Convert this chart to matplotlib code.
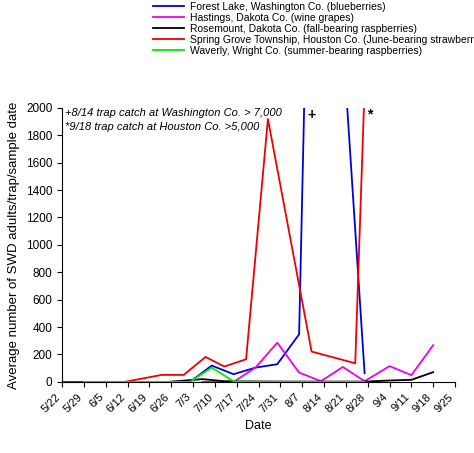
import matplotlib.pyplot as plt
import numpy as np
import datetime as dt

plt.rcParams['font.family'] = ['Liberation Sans', 'DejaVu Sans']

tick_labels = ['5/22', '5/29', '6/5', '6/12', '6/19', '6/26', '7/3', '7/10', '7/17', '7/24',
               '7/31', '8/7', '8/14', '8/21', '8/28', '9/4', '9/11', '9/18', '9/25']

# days after 5/22, values (off-scale peaks kept just above the 2000 limit)
red_d = [0, 7, 20, 32, 39, 46, 52, 59, 66, 80, 94, 97]
red_v = [0, 0, 0, 51, 51, 182, 112, 165, 1918, 221, 136, 2150]
blue_d = [41, 48, 55, 62, 69, 76, 78, 91, 97]
blue_v = [0, 119, 56, 104, 129, 347, 2400, 2150, 63]
mag_d = [45, 55, 62, 69, 76, 83, 90, 97, 105, 112, 119]
mag_v = [0, 0, 104, 286, 68, 5, 109, 5, 115, 49, 268]
blk_d = [34, 45, 52, 62, 76, 90, 97, 105, 112, 119]
blk_v = [0, 20, 5, 3, 2, 2, 2, 10, 15, 71]
grn_d = [7, 41, 48, 55, 62, 76, 90, 97]
grn_v = [0, 0, 104, 5, 0, 0, 0, 0]

fig = plt.figure(figsize=(4.74, 4.53), dpi=100)
ax = fig.add_axes([0.131, 0.157, 0.829, 0.605])
ax.plot(blue_d, blue_v, color='#0000dd', lw=1.3, label='Forest Lake, Washington Co. (blueberries)')
ax.plot(mag_d, mag_v, color='#ee00ee', lw=1.3, label='Hastings, Dakota Co. (wine grapes)')
ax.plot(blk_d, blk_v, color='black', lw=1.3, label='Rosemount, Dakota Co. (fall-bearing raspberries)')
ax.plot(red_d, red_v, color='#ee0000', lw=1.3, label='Spring Grove Township, Houston Co. (June-bearing strawberries)')
ax.plot(grn_d, grn_v, color='#00ee00', lw=1.3, label='Waverly, Wright Co. (summer-bearing raspberries)')

ax.set_ylim(0, 2000)
ax.set_xlim(0, 126)
ax.set_yticks(range(0, 2001, 200))
ax.set_xticks(np.arange(len(tick_labels)) * 7)
ax.set_xticklabels(tick_labels, rotation=45, ha='right', fontsize=8)
ax.tick_params(axis='y', labelsize=8.5)
ax.spines['top'].set_visible(False)
ax.spines['right'].set_visible(False)
ax.set_xlabel('Date', fontsize=9)
ax.set_ylabel('Average number of SWD adults/trap/sample date', fontsize=9.5)

ax.text(1, 1940, '+8/14 trap catch at Washington Co. > 7,000', fontsize=8, style='italic')
ax.text(1, 1840, '*9/18 trap catch at Houston Co. >5,000', fontsize=8, style='italic')
ax.text(80, 2000, '+', fontsize=10, fontweight='bold', ha='center', va='top')
ax.text(98.5, 2000, '*', fontsize=10, fontweight='bold', ha='center', va='top')

fig.legend(loc='upper left', bbox_to_anchor=(0.31, 1.01), frameon=False, fontsize=7.5,
           handlelength=3.0, handletextpad=0.5, labelspacing=0.1, borderaxespad=0.2)
fig.savefig('out.png', dpi=100)
